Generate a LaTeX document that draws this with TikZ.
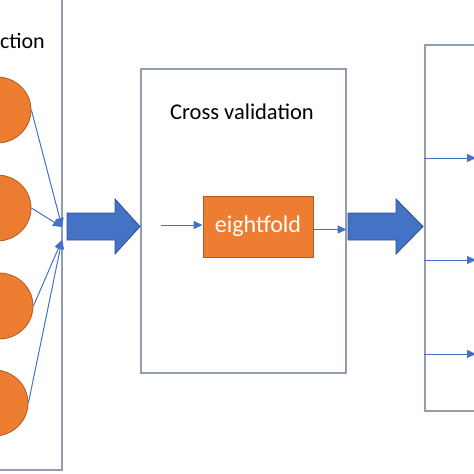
\documentclass[tikz,border=0pt]{standalone}
\usepackage{fontspec}
\setmainfont{Carlito}
\usetikzlibrary{shapes.geometric, arrows.meta}
\definecolor{orng}{RGB}{237, 125, 49}
\definecolor{orngdark}{RGB}{174, 90, 33}
\definecolor{blu}{RGB}{68, 114, 196}
\definecolor{bludark}{RGB}{47, 82, 143}
\definecolor{frame}{RGB}{146, 158, 176}

\tikzset{
  box/.style={draw=frame, line width=1.2, inner sep=0},
  blob/.style={ellipse, fill=orng, draw=orngdark, line width=0.8,
    minimum width=68, minimum height=66, inner sep=0},
  thinarrow/.style={draw=blu, line width=1,
    -{Triangle[length=9, width=8, fill=blu]}},
  bigarrow/.style={fill=blu, draw=bludark, line width=0.8}
}

\begin{document}
\begin{tikzpicture}[x=1pt, y=-1pt]
  \useasboundingbox (0, 0) rectangle (474, 474);
  \clip (0, 0) rectangle (474, 474);

  % the three frames
  \node[box, minimum width=82, minimum height=480] (sel) at (21, 230) {};
  \node[box, minimum width=205, minimum height=304] (cv) at (243.5, 221) {};
  \node[box, minimum width=95, minimum height=366] (res) at (472.5, 228) {};

  \node[anchor=base east, font=\fontsize{22}{26}\selectfont, inner sep=0]
    (seltitle) at (45, 48) {ction};
  \node[anchor=base, font=\fontsize{22.5}{27}\selectfont, inner sep=0]
    (cvtitle) at (242, 119) {Cross validation};

  % ellipses on the left
  \foreach [count=\n] \y/\x in {110/-3, 208/-3, 306/-1, 403/-6} {
    \node[blob] (e\n) at (\x, \y) {};
  }
  \coordinate (hubA) at (62, 227);
  \coordinate (hubB) at (62, 240);
  \draw[thinarrow] (e1.east) -- (hubA);
  \draw[thinarrow] (e2.east) -- (hubA);
  \draw[thinarrow] (e3.east) -- (hubB);
  \draw[thinarrow] (e4.east) -- (hubB);

  % fat arrows between frames
  \foreach \a/\b/\c in {67/115/140, 348/396/423} {
    \draw[bigarrow] (\a, 213) -- (\b, 213) -- (\b, 199) -- (\c, 226.5)
      -- (\b, 254) -- (\b, 240) -- (\a, 240) -- cycle;
  }

  % eightfold
  \node[fill=orng, draw=orngdark, line width=0.8, minimum width=110,
    minimum height=61, text=white, font=\fontsize{24}{28}\selectfont]
    (ef) at (258, 226.5) {eightfold};
  \coordinate (efin) at (161, 225);
  \draw[thinarrow] (efin) -- (ef.west |- efin);
  \draw[thinarrow] ([yshift=-3]ef.east) -- ([yshift=-3]ef.east -| cv.east);

  % outputs on the right
  \foreach \y in {158, 260, 354} {
    \coordinate (out\y) at (476, \y);
    \draw[thinarrow] (res.west |- out\y) -- (out\y);
  }
\end{tikzpicture}
\end{document}
